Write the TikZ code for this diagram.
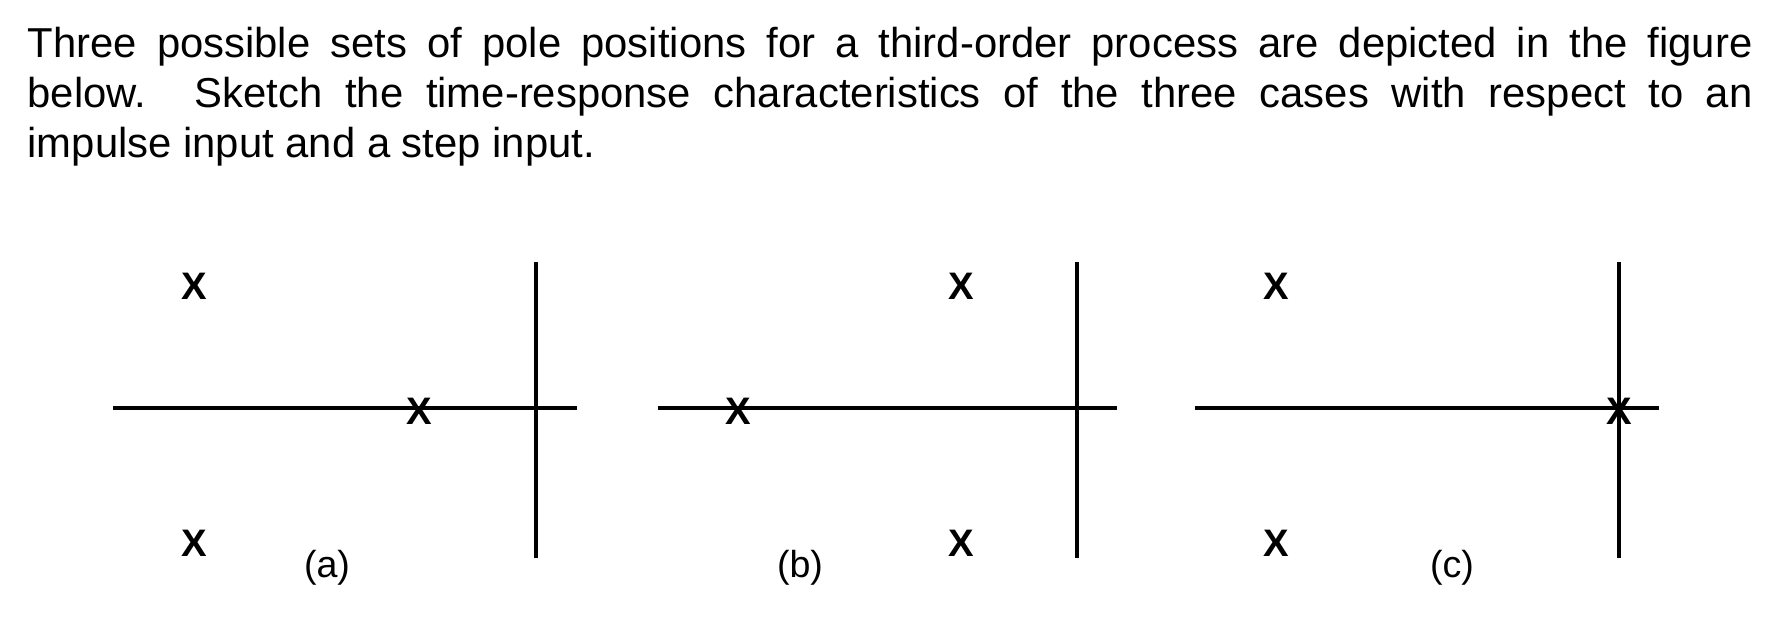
\documentclass[tikz,border=0pt]{standalone}
\usepackage{fontspec}
\setmainfont{Liberation Sans}
\usetikzlibrary{positioning}

\begin{document}
\begin{tikzpicture}[
    poleaxis/.style={line width=1pt},
    pole/.style={font=\fontsize{10.9}{12}\selectfont\bfseries, inner sep=0pt},
    caption/.style={font=\fontsize{10.7}{12}\selectfont, inner sep=0pt},
    question/.style={font=\fontsize{11.9}{14.1}\selectfont, inner sep=0pt,
        text width=17.25cm, align=justify}]
    \useasboundingbox (0,0) rectangle (17.8,6.44);

    % Question
    \node[question, anchor=north west] (text) at (0.27,6.17)
        {\hyphenpenalty=10000 Three possible sets of pole positions for a third-order process are depicted in the figure\linebreak
         below. Sketch the time-response characteristics of the three cases with respect to an\linebreak
         impulse input and a step input.};

    % Case (a)
    \coordinate (a-left) at (1.13,2.36);
    \coordinate (a-right) at (5.77,2.36);
    \coordinate (a-top) at (5.36,3.82);
    \coordinate (a-bot) at (5.36,0.86);
    \draw[poleaxis] (a-left) -- (a-right);
    \draw[poleaxis] (a-top) -- (a-bot);
    \node[pole] (a-p1) at (1.94,3.58) {X};
    \node[pole] (a-p2) at (1.94,1.01) {X};
    \node[pole] (a-p3) at (4.19,2.33) {X};
    \node[caption] (a-lab) at (3.27,0.76) {(a)};

    % Case (b)
    \coordinate (b-left) at (6.58,2.36);
    \coordinate (b-right) at (11.17,2.36);
    \coordinate (b-top) at (10.77,3.82);
    \coordinate (b-bot) at (10.77,0.86);
    \draw[poleaxis] (b-left) -- (b-right);
    \draw[poleaxis] (b-top) -- (b-bot);
    \node[pole] (b-p1) at (9.61,3.58) {X};
    \node[pole] (b-p2) at (9.61,1.01) {X};
    \node[pole] (b-p3) at (7.38,2.33) {X};
    \node[caption] (b-lab) at (8.00,0.76) {(b)};

    % Case (c)
    \coordinate (c-left) at (11.95,2.36);
    \coordinate (c-right) at (16.59,2.36);
    \coordinate (c-top) at (16.19,3.82);
    \coordinate (c-bot) at (16.19,0.86);
    \draw[poleaxis] (c-left) -- (c-right);
    \draw[poleaxis] (c-top) -- (c-bot);
    \node[pole] (c-p1) at (12.76,3.58) {X};
    \node[pole] (c-p2) at (12.76,1.01) {X};
    \node[pole] (c-p3) at (16.19,2.33) {X};
    \node[caption] (c-lab) at (14.52,0.76) {(c)};
\end{tikzpicture}
\end{document}
